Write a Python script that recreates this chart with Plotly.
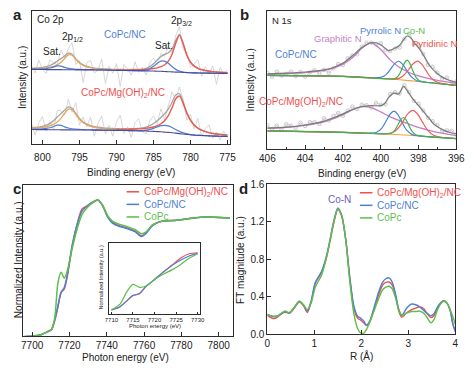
import plotly.graph_objects as go

W, H = 474, 371
FONT = "Arial, Liberation Sans, sans-serif"
RED, BLUE, GREEN = "#ef4f4f", "#4f7fd3", "#5cbf4a"


def fx(px):
    return px / W


def fy(py):
    return 1 - py / H


# ---------------- panel a : Co 2p XPS ----------------
E_a = [801.5, 801.0, 800.5, 800.0, 799.5, 799.0, 798.5, 798.0, 797.5, 797.0,
       796.5, 796.0, 795.5, 795.0, 794.5, 794.0, 793.5, 793.0, 792.5, 792.0,
       791.5, 791.0, 790.5, 790.0, 789.5, 789.0, 788.5, 788.0, 787.5, 787.0,
       786.5, 786.0, 785.5, 785.0, 784.5, 784.0, 783.5, 783.0, 782.5, 782.0,
       781.5, 781.0, 780.5, 780.0, 779.5, 779.0, 778.5, 778.0, 777.5, 777.0,
       776.5, 776.0, 775.5, 775.0]
up_raw = [81.6, 73.8, 87.1, 77.6, 73.3, 87.5, 84.4, 82.2, 97.6, 88.3,
          99.2, 105.1, 82.5, 86.6, 64.0, 84.6, 86.6, 73.9, 76.5, 88.2,
          63.0, 80.7, 73.5, 83.5, 60.0, 82.4, 78.3, 71.4, 85.4, 74.5,
          79.8, 71.6, 84.3, 89.3, 82.2, 93.8, 91.0, 101.7, 94.4, 112.3,
          121.7, 98.5, 95.3, 79.9, 82.9, 87.6, 70.2, 80.3, 72.6, 81.1,
          62.0, 79.5, 72.3, 77.1]
up_env = [78.6, 78.8, 79.1, 79.6, 80.3, 81.5, 83.4, 86.2, 88.6, 91.3,
          94.2, 93.1, 88.5, 84.6, 82.1, 80.6, 79.6, 78.9, 78.5, 78.2,
          77.9, 77.7, 77.5, 77.5, 77.4, 77.4, 77.3, 77.4, 77.4, 77.5,
          77.8, 78.6, 80.3, 83.3, 87.2, 90.8, 93.0, 94.7, 98.4, 107.3,
          113.7, 104.5, 92.3, 84.9, 80.9, 78.6, 77.2, 76.3, 75.6, 75.1,
          74.8, 74.5, 74.3, 74.1]
up_bg = [77.5, 77.5, 77.4, 77.4, 77.3, 77.3, 77.2, 77.2, 77.2, 77.1,
         77.1, 77.1, 77.0, 77.0, 77.0, 77.0, 77.0, 76.9, 76.9, 76.8,
         76.8, 76.7, 76.6, 76.5, 76.4, 76.4, 76.3, 76.3, 76.2, 76.1,
         76.0, 76.0, 75.9, 75.8, 75.6, 75.5, 75.3, 75.1, 74.9, 74.7,
         74.6, 74.4, 74.2, 74.0, 73.9, 73.8, 73.7, 73.7, 73.6, 73.5,
         73.5, 73.4, 73.4, 73.3]
up_orange = [78.3, 78.4, 78.5, 78.8, 79.1, 79.8, 80.6, 82.2, 84.9, 88.8,
             92.6, 92.1, 87.8, 84.0, 81.6, 80.2, 79.3, 78.6, 78.2, 77.9,
             77.7, 77.4, 77.2, 77.0, 76.8, 76.8, 76.6, 76.5, 76.4, 76.3]
up_blue = [77.8, 77.8, 77.9, 78.1, 78.3, 78.9, 79.9, 81.1, 80.9, 79.5,
           78.6, 78.0, 77.6, 77.5, 77.3, 77.3, 77.2, 77.1, 77.0, 76.9,
           76.8, 76.7, 76.6, 76.5, 76.4, 76.4, 76.3, 76.3, 76.2, 76.2,
           76.3, 76.9, 78.2, 80.7, 83.7, 86.0, 86.0, 83.8, 80.4, 77.5,
           75.7, 74.7, 74.3, 74.0, 73.9, 73.8, 73.7, 73.7, 73.6, 73.5,
           73.5, 73.4, 73.4, 73.3]
up_red = [77.0, 76.9, 77.0, 77.0, 77.0, 77.1, 77.2, 77.3, 77.6, 77.9,
          78.4, 79.1, 80.3, 82.3, 86.0, 92.9, 104.5, 112.6, 104.2, 92.2,
          84.9, 80.9, 78.6, 77.2, 76.3, 75.6, 75.1, 74.8, 74.5, 74.3, 74.1]

lo_raw = [23.1, 9.5, 21.9, 28.7, 13.8, 23.5, 15.4, 35.3, 34.8, 30.4,
          46.7, 33.3, 43.0, 19.8, 28.2, 17.9, 28.4, 8.4, 21.7, 29.3,
          10.8, 19.6, 8.4, 23.3, 30.1, 11.2, 18.1, 7.2, 22.3, 26.5,
          13.0, 10.9, 24.3, 29.5, 21.4, 36.8, 25.7, 40.5, 54.3, 46.0,
          59.3, 46.7, 25.0, 31.0, 16.0, 26.8, 7.8, 16.3, 20.2, 6.4,
          12.8, 4.3, 13.9, 6.6]
lo_env = [17.1, 17.5, 17.9, 18.7, 19.8, 21.5, 24.4, 28.3, 31.8, 35.4,
          38.7, 37.3, 32.0, 26.8, 23.2, 20.9, 19.4, 18.4, 17.7, 17.3,
          16.8, 16.6, 16.4, 16.3, 16.1, 16.2, 16.1, 16.2, 16.3, 16.5,
          17.0, 17.9, 19.3, 21.5, 24.4, 27.8, 31.7, 36.5, 43.3, 51.0,
          52.3, 43.7, 33.0, 25.0, 20.0, 16.8, 14.8, 13.3, 12.2, 11.4,
          10.8, 10.3, 9.9, 9.6]
lo_bg = [15.3, 15.3, 15.2, 15.2, 15.2, 15.1, 15.1, 15.1, 15.0, 15.0,
         15.0, 14.9, 14.9, 14.9, 14.8, 14.8, 14.8, 14.7, 14.7, 14.7,
         14.6, 14.6, 14.5, 14.5, 14.4, 14.4, 14.3, 14.2, 14.1, 14.0,
         13.9, 13.8, 13.6, 13.4, 13.2, 13.0, 12.7, 12.4, 12.0, 11.6,
         11.1, 10.7, 10.3, 9.9, 9.6, 9.4, 9.2, 9.0, 8.8, 8.6,
         8.5, 8.4, 8.3, 8.2]
lo_orange = [16.6, 16.9, 17.1, 17.6, 18.3, 19.2, 20.8, 23.2, 26.9, 32.1,
             36.5, 35.8, 30.9, 25.9, 22.3, 20.1, 18.7, 17.7, 17.0, 16.5,
             16.1, 15.9, 15.6, 15.4, 15.2, 15.1, 14.9, 14.7, 14.6, 14.4]
lo_blue = [15.6, 15.8, 15.8, 16.1, 16.5, 17.2, 18.5, 19.9, 19.6, 18.1,
           16.9, 16.1, 15.7, 15.5, 15.2, 15.1, 15.1, 14.9, 14.9, 14.8,
           14.7, 14.7, 14.6, 14.5, 14.4, 14.4, 14.3, 14.2, 14.1, 14.1,
           14.3, 14.7, 15.4, 16.6, 18.0, 19.3, 19.7, 19.1, 17.5, 15.4,
           13.4, 11.9, 10.8, 10.1, 9.7, 9.4, 9.2, 9.0, 8.8, 8.6,
           8.5, 8.4, 8.3, 8.2]
lo_red = [15.3, 15.4, 15.5, 15.5, 15.6, 15.8, 16.0, 16.3, 16.7, 17.2,
          18.0, 19.3, 21.3, 24.5, 29.7, 37.7, 47.0, 49.9, 42.4, 32.3,
          24.7, 19.8, 16.7, 14.7, 13.2, 12.1, 11.3, 10.7, 10.3, 9.9, 9.6]

# ---------------- panel b : N 1s XPS ----------------
E_b_raw = [406.0, 405.75, 405.5, 405.25, 405.0, 404.75, 404.5, 404.25, 404.0, 403.75,
           403.5, 403.25, 403.0, 402.75, 402.5, 402.25, 402.0, 401.75, 401.5, 401.25,
           401.0, 400.75, 400.5, 400.25, 400.0, 399.75, 399.5, 399.25, 399.0, 398.75,
           398.5, 398.25, 398.0, 397.75, 397.5, 397.25, 397.0, 396.75, 396.5, 396.25, 396.0]
b_up_raw = [79, 75, 80, 76, 78, 80.2, 75.5, 79.8, 75, 79.3,
            81.7, 78.2, 82, 79, 83.5, 88, 87, 94, 97, 98,
            106, 110, 110, 108.5, 109.5, 102.5, 101.5, 104, 105, 114,
            119.5, 108.5, 107, 98.5, 87, 85, 79, 73, 74, 69.5, 70]
b_lo_raw = [24.8, 21, 24.3, 20.5, 25.8, 24.3, 21.9, 27.4, 24, 28,
            28, 26, 32, 29.7, 34.5, 37.5, 34.5, 39.8, 44, 41.5,
            46, 45.5, 43, 48, 46, 46.5, 57, 59, 57.5, 66,
            59, 50, 47, 40, 32.5, 29, 25, 18.5, 19.5, 19, 15]

E_b_env_up = [406, 405, 404, 403, 402.5, 402, 401.5, 401, 400.5, 400.2, 399.9, 399.6,
              399.3, 399.0, 398.8, 398.6, 398.4, 398.2, 398.0, 397.7, 397.4, 397.0, 396.5, 396.0]
b_up_env = [78.0, 78.6, 79.8, 82.0, 84.5, 89.0, 96.5, 105.0, 110.0, 109.8, 106.5, 102.0,
            104.0, 107.5, 113.0, 117.0, 115.0, 109.5, 105.0, 96.0, 86.0, 78.0, 72.0, 69.0]
E_b_env_lo = [406, 405, 404, 403, 402.5, 402, 401.5, 401, 400.5, 400, 399.8, 399.6,
              399.3, 399.05, 398.8, 398.55, 398.3, 398.0, 397.7, 397.4, 397.2, 396.7, 396.3, 396.0]
b_lo_env = [21.8, 22.8, 25.0, 29.0, 32.5, 36.5, 41.0, 44.0, 45.0, 45.0, 47.0, 53.0,
            58.0, 57.0, 65.0, 59.0, 52.0, 45.0, 38.0, 31.0, 26.0, 20.0, 17.0, 16.0]

E_b_bg = [406, 404, 402, 401, 400, 399, 398, 397, 396]
b_up_bg = [76.3, 76.0, 75.3, 74.5, 73.3, 71.8, 70.0, 68.0, 66.0]
b_lo_bg = [19.0, 18.5, 17.5, 16.8, 16.0, 15.0, 13.8, 12.5, 11.0]

E_b_graph = [406, 405, 404, 403, 402.5, 402, 401.5, 401, 400.5, 400, 399.5, 399,
             398.5, 398, 397.5, 397, 396.5, 396]
b_up_graph = [77.7, 78.2, 79.2, 81.5, 83.9, 87.9, 94.6, 104.3, 109.9, 103.1, 92.3, 84.4,
              79.3, 75.8, 73.3, 71.2, 69.5, 68.0]
b_lo_graph = [21.7, 22.6, 24.6, 28.3, 31.5, 35.8, 40.7, 43.9, 43.1, 38.5, 33.5, 29.5,
              26.0, 22.5, 19.8, 17.3, 15.6, 14.1]

E_b_pyr_up = [406, 402, 400.5, 400, 399.7, 399.45, 399.25, 399.05, 398.85, 398.65, 398.4, 398.1, 397.6, 396]
b_up_pyr = [76.3, 75.3, 73.9, 74.2, 77.3, 83.5, 88.7, 90.9, 88.0, 82.2, 75.2, 70.8, 69.2, 66.0]
E_b_con_up = [406, 402, 399.6, 399.25, 399.05, 398.9, 398.75, 398.6, 398.45, 398.3, 398.15, 397.95, 397.6, 396]
b_up_con = [76.3, 75.3, 72.7, 73.0, 76.3, 82.1, 89.0, 92.1, 88.4, 81.0, 74.7, 70.7, 69.2, 66.0]
E_b_pyd_up = [406, 402, 399.3, 399.0, 398.75, 398.5, 398.3, 398.05, 397.8, 397.6, 397.35, 397.1, 396.8, 396.4, 396]
b_up_pyd = [76.3, 75.3, 72.5, 73.5, 76.9, 82.9, 88.1, 91.1, 87.2, 81.2, 74.2, 69.9, 68.0, 66.8, 66.0]

E_b_pyr_lo = [406, 402, 400.6, 400.25, 399.95, 399.7, 399.5, 399.3, 399.1, 398.9, 398.65, 398.35, 398.0, 396]
b_lo_pyr = [19.0, 17.5, 16.5, 17.3, 21.6, 29.6, 36.4, 39.3, 36.0, 28.8, 20.2, 15.3, 13.8, 11.0]
E_b_con_lo = [406, 402, 399.8, 399.45, 399.25, 399.1, 398.95, 398.8, 398.65, 398.5, 398.35, 398.15, 397.8, 396]
b_lo_con = [19.0, 17.5, 15.8, 16.5, 19.8, 24.8, 30.4, 32.8, 30.1, 24.1, 18.7, 15.0, 13.6, 11.0]
E_b_pyd_lo = [406, 402, 399.8, 399.4, 399.1, 398.8, 398.55, 398.3, 398.05, 397.8, 397.5, 397.2, 396.8, 396]
b_lo_pyd = [19.0, 17.5, 15.95, 17.0, 21.1, 29.5, 37.0, 40.2, 36.4, 28.3, 19.2, 14.4, 12.35, 11.0]

# ---------------- panel c : XANES ----------------
series_names = ["CoPc/Mg(OH)<sub>2</sub>/NC", "CoPc/NC", "CoPc"]
E_c = [7695.3, 7700, 7704.3, 7707.8, 7710.3, 7712, 7713.8, 7715.5, 7717.2, 7719,
       7721.5, 7724.1, 7726.7, 7729.3, 7732.2, 7735.3, 7737.9, 7740.5, 7743, 7746.5,
       7750.8, 7755.1, 7758.6, 7761.1, 7764.6, 7769.8, 7776.6, 7783.6, 7790.4, 7797.3, 7806]
c_red = [0.002, 0.008, 0.016, 0.04, 0.06, 0.13, 0.25, 0.37, 0.40, 0.52,
         0.76, 0.94, 1.065, 1.09, 1.12, 1.14, 1.09, 1.0, 0.955, 0.928,
         0.908, 0.882, 0.842, 0.868, 0.932, 0.966, 0.971, 0.985, 0.998, 0.998, 0.992]
c_blue = [0.002, 0.008, 0.016, 0.04, 0.062, 0.137, 0.258, 0.371, 0.411, 0.532,
          0.766, 0.935, 1.048, 1.089, 1.121, 1.141, 1.091, 0.998, 0.949, 0.922,
          0.903, 0.877, 0.836, 0.863, 0.93, 0.965, 0.97, 0.984, 0.998, 0.998, 0.992]
c_green = [0.002, 0.008, 0.016, 0.04, 0.06, 0.15, 0.45, 0.54, 0.49, 0.56,
           0.74, 0.90, 1.02, 1.075, 1.115, 1.14, 1.095, 1.01, 0.965, 0.94,
           0.92, 0.895, 0.86, 0.875, 0.935, 0.965, 0.972, 0.985, 0.998, 0.998, 0.992]

E_in = [7710, 7712, 7713.5, 7715, 7716.5, 7718, 7720, 7722, 7724, 7726, 7728, 7730]
in_red = [4, 7.3, 13, 18.5, 21, 28, 35.3, 43, 50, 57.3, 62, 63]
in_blue = [4, 7.3, 13, 19, 20.7, 28, 35.3, 43, 49.7, 55.3, 59.7, 62.3]
in_green = [4, 10, 22, 30.3, 27.3, 28.7, 35.3, 40.7, 45.3, 50.7, 57.3, 62]

# ---------------- panel d : EXAFS FT ----------------
R_d = [0, 0.137, 0.24, 0.37, 0.47, 0.58, 0.68, 0.77, 0.85, 0.93,
       1.02, 1.155, 1.25, 1.33, 1.42, 1.5, 1.58, 1.67, 1.75, 1.84,
       1.92, 1.98, 2.05, 2.11, 2.18, 2.28, 2.37, 2.45, 2.52, 2.59,
       2.66, 2.73, 2.8, 2.86, 2.97, 3.07, 3.17, 3.24, 3.33, 3.38,
       3.48, 3.55, 3.62, 3.7, 3.75, 3.82, 3.89, 3.95, 4.0]
d_red = [0.2, 0.165, 0.19, 0.235, 0.22, 0.28, 0.34, 0.3, 0.23, 0.34,
         0.54, 0.66, 0.8, 0.98, 1.2, 1.33, 1.26, 1.0, 0.62, 0.28,
         0.17, 0.15, 0.12, 0.09, 0.13, 0.28, 0.42, 0.52, 0.55, 0.555,
         0.52, 0.4, 0.24, 0.18, 0.23, 0.26, 0.28, 0.29, 0.27, 0.23,
         0.175, 0.2, 0.28, 0.34, 0.355, 0.33, 0.25, 0.1, 0.03]
d_blue = [0.21, 0.185, 0.2, 0.24, 0.225, 0.29, 0.35, 0.31, 0.245, 0.35,
          0.55, 0.67, 0.82, 1.0, 1.22, 1.345, 1.27, 1.0, 0.62, 0.3,
          0.19, 0.17, 0.14, 0.095, 0.14, 0.3, 0.45, 0.55, 0.59, 0.6,
          0.55, 0.42, 0.26, 0.2, 0.28, 0.32, 0.31, 0.29, 0.25, 0.23,
          0.195, 0.22, 0.29, 0.34, 0.355, 0.33, 0.25, 0.1, 0.025]
d_green = [0.21, 0.19, 0.2, 0.245, 0.23, 0.29, 0.35, 0.31, 0.26, 0.33,
           0.5, 0.63, 0.8, 0.99, 1.21, 1.335, 1.27, 1.0, 0.58, 0.22,
           0.06, 0.015, 0.01, 0.05, 0.13, 0.26, 0.38, 0.47, 0.5, 0.51,
           0.48, 0.38, 0.25, 0.2, 0.225, 0.24, 0.24, 0.245, 0.22, 0.19,
           0.12, 0.16, 0.26, 0.33, 0.35, 0.33, 0.26, 0.18, 0.1]

# ---------------- build figure ----------------
fig = go.Figure()


def add(x, y, xa, ya, color, width=1.2, mode="lines", marker=None):
    fig.add_trace(go.Scatter(
        x=x, y=y, xaxis=xa, yaxis=ya, mode=mode,
        line=dict(color=color, width=width, shape="spline", smoothing=0.8),
        marker=marker, showlegend=False, hoverinfo="skip"))


# panel a
for raw, env, orng, red, blue, bg in [
        (up_raw, up_env, up_orange, up_red, up_blue, up_bg),
        (lo_raw, lo_env, lo_orange, lo_red, lo_blue, lo_bg)]:
    fig.add_trace(go.Scatter(x=E_a, y=raw, xaxis="x", yaxis="y", mode="lines",
                             line=dict(color="#cdcdcd", width=0.8),
                             showlegend=False, hoverinfo="skip"))
    add(E_a, env, "x", "y", "#a3a3a3", 1.3)
    add(E_a[:30], orng, "x", "y", "#e9a55a", 1.3)
    add(E_a[23:], red, "x", "y", "#ec5a4f", 1.4)
    add(E_a, blue, "x", "y", "#4d7fd6", 1.2)
    add(E_a, bg, "x", "y", "#4a4a9e", 1.1)

# panel b
for raw, eE, env, bg, gr, pyr_x, pyr, con_x, con, pyd_x, pyd in [
        (b_up_raw, E_b_env_up, b_up_env, b_up_bg, b_up_graph, E_b_pyr_up, b_up_pyr,
         E_b_con_up, b_up_con, E_b_pyd_up, b_up_pyd),
        (b_lo_raw, E_b_env_lo, b_lo_env, b_lo_bg, b_lo_graph, E_b_pyr_lo, b_lo_pyr,
         E_b_con_lo, b_lo_con, E_b_pyd_lo, b_lo_pyd)]:
    add(E_b_raw, raw, "x2", "y2", "#c4c4c4", 0.8, mode="lines+markers",
        marker=dict(symbol="circle-open", size=3.5, color="#bdbdbd", line=dict(width=0.8)))
    add(E_b_bg, bg, "x2", "y2", "#f2a33a", 1.1)
    add(E_b_graph, gr, "x2", "y2", "#c27fc6", 1.3)
    add(pyr_x, pyr, "x2", "y2", "#4d7fd6", 1.2)
    add(pyd_x, pyd, "x2", "y2", "#ef5f5a", 1.2)
    add(con_x, con, "x2", "y2", "#3fb34f", 1.2)
    add(eE, env, "x2", "y2", "#7a7a7a", 1.2)

# panel c
for ys, col in [(c_red, RED), (c_blue, BLUE), (c_green, GREEN)]:
    add(E_c, ys, "x3", "y3", col, 1.5)
for ys, col in [(in_red, RED), (in_blue, BLUE), (in_green, GREEN)]:
    add(E_in, ys, "x5", "y5", col, 1.2)

# panel d
for ys, col in [(d_red, RED), (d_blue, BLUE), (d_green, GREEN)]:
    add(R_d, ys, "x4", "y4", col, 1.4)

TICKF = dict(size=10, color="#222", family=FONT)
axc = dict(showline=True, linecolor="#2b2b2b", linewidth=1, mirror=True,
           ticks="inside", ticklen=4, tickcolor="#2b2b2b", showgrid=False,
           zeroline=False, tickfont=TICKF)
ynol = dict(showline=True, linecolor="#2b2b2b", linewidth=1, mirror=True,
            ticks="", showticklabels=False, showgrid=False, zeroline=False)

fig.update_layout(
    width=W, height=H, margin=dict(l=0, r=0, t=0, b=0),
    paper_bgcolor="white", plot_bgcolor="white", showlegend=False,
    hovermode=False,
    font=dict(family=FONT, size=10, color="#222"),
    xaxis=dict(axc, domain=[fx(25), fx(230)], range=[801.4, 774.7], anchor="y",
               tickvals=[800, 795, 790, 785, 780, 775], ticklabelstandoff=4),
    yaxis=dict(ynol, domain=[fy(143), fy(5)], range=[0, 138], anchor="x"),
    xaxis2=dict(axc, domain=[fx(269), fx(465)], range=[406, 396], anchor="y2",
                tickvals=[406, 404, 402, 400, 398, 396],
                minor=dict(ticks="inside", ticklen=2, dtick=1, tickcolor="#2b2b2b")),
    yaxis2=dict(ynol, domain=[fy(148), fy(5)], range=[0, 143], anchor="x2"),
    xaxis3=dict(axc, domain=[fx(16), fx(233)], range=[7695.3, 7807.5], anchor="y3",
                tickvals=[7700, 7720, 7740, 7760, 7780, 7800]),
    yaxis3=dict(ynol, domain=[fy(341), fy(185)], range=[0.008, 1.266], anchor="x3"),
    xaxis4=dict(axc, domain=[fx(269), fx(464)], range=[0, 4], anchor="y4",
                tickvals=[0, 1, 2, 3, 4]),
    yaxis4=dict(axc, domain=[fy(339), fy(184)], range=[0, 1.6], anchor="x4",
                tickvals=[0, 0.4, 0.8, 1.2, 1.6], ticktext=["0.0", "0.4", "0.8", "1.2", "1.6"]),
    xaxis5=dict(axc, domain=[fx(105), fx(199)], range=[7709.5, 7730.5], anchor="y5",
                tickvals=[7710, 7715, 7720, 7725, 7730], ticklen=2,
                tickfont=dict(size=6, color="#222", family=FONT), ticklabelstandoff=0),
    yaxis5=dict(ynol, domain=[fy(318), fy(245)], range=[0, 73], anchor="x5"),
)

anns = []


def ann(text, px, py, size=10, color="#222", xanchor="center", angle=0):
    anns.append(dict(text=text, x=fx(px), y=fy(py), xref="paper", yref="paper",
                     showarrow=False, xanchor=xanchor, yanchor="middle", textangle=angle,
                     font=dict(size=size, color=color, family=FONT)))


# panel letters
ann("<b>a</b>", 10, 9, 15)
ann("<b>b</b>", 245, 9, 15)
ann("<b>c</b>", 9, 189, 15)
ann("<b>d</b>", 244, 189, 15)

# panel a texts
ann("Co 2p", 28, 14, 10, xanchor="left")
ann("2p<sub>1/2</sub>", 67, 32, 10)
ann("Sat.", 46, 47, 10)
ann("CoPc/NC", 121, 29, 10, BLUE)
ann("Sat.", 162, 41, 10)
ann("2p<sub>3/2</sub>", 180, 15, 10)
ann("CoPc/Mg(OH)<sub>2</sub>/NC", 119, 90, 10, RED)
ann("Intensity (a.u.)", 15, 74, 10, angle=-90)
ann("Binding energy (eV)", 128, 172, 10)

# panel b texts
ann("N 1s", 272, 15, 9.5, xanchor="left")
ann("Graphitic N", 342, 34, 9.5, "#c27fc6")
ann("Pyrrolic N", 386, 25, 9.5, BLUE)
ann("Co-N", 421, 25, 9.5, GREEN)
ann("Pyridinic N", 443, 39, 9.5, RED)
ann("CoPc/NC", 299, 50, 10, BLUE)
ann("CoPc/Mg(OH)<sub>2</sub>/NC", 304, 99, 10, RED)
ann("Intensity (a.u.)", 252, 76, 10, angle=-90)
ann("Binding energy (eV)", 367, 173, 10)

# panel c texts
ann("Normalized Intensity (a.u.)", 11, 262, 10, angle=-90)
ann("Photon energy (eV)", 122, 363, 10)
ann("Photon energy (eV)", 152, 331, 6)
ann("Normalized Intensity (a.u.)", 96, 281, 5.5, angle=-90)

# panel d texts
ann("Co-N", 344, 200, 10, "#6a5acd")
ann("FT magnitude (a.u.)", 241, 262, 10, angle=-90)
ann("R (Å)", 367, 362, 10)

# hand-drawn legends for c and d
shapes = []
for (lx, rows) in [(123, [192, 205, 218]), (365, [193, 206, 219])]:
    for name, col, ry in zip(series_names, [RED, BLUE, GREEN], rows):
        shapes.append(dict(type="line", xref="paper", yref="paper",
                           x0=fx(lx), x1=fx(lx + 13), y0=fy(ry), y1=fy(ry),
                           line=dict(color=col, width=1.5)))
        ann(name, lx + 16, ry, 10, col, xanchor="left")

fig.update_layout(annotations=anns, shapes=shapes)
fig.write_html("out.html",
               config={"displayModeBar": False, "staticPlot": True},
               post_script="document.body.style.margin='0';document.body.style.padding='0';")
